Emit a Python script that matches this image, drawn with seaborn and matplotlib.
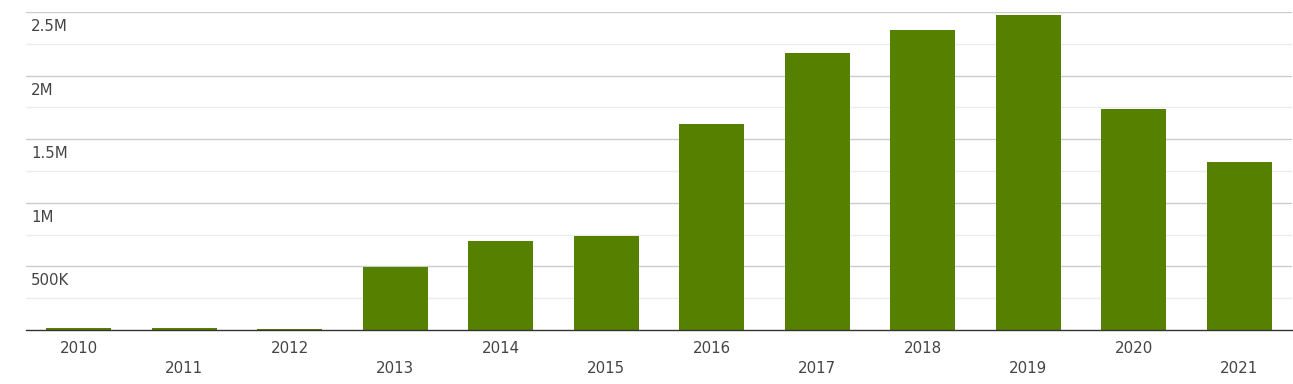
import matplotlib
matplotlib.use("Agg")
import matplotlib.pyplot as plt
import matplotlib.transforms as mtransforms
import seaborn as sns
import pandas as pd

years = ["2010", "2011", "2012", "2013", "2014", "2015", "2016", "2017", "2018", "2019", "2020", "2021"]
values = [13000, 16000, 5000, 495000, 700000, 739000, 1620000, 2178000, 2358000, 2476000, 1737000, 1321000]
ytick_values = [500000, 1000000, 1500000, 2000000, 2500000]
ytick_labels = ["500K", "1M", "1.5M", "2M", "2.5M"]

sns.set_theme(style="white")
plt.rcParams['font.family'] = ['DejaVu Sans']

fig = plt.figure(figsize=(12.93, 3.84), dpi=100)
ax = fig.add_axes([26/1293, 1 - 330/384, 1266/1293, 318/384])

df = pd.DataFrame({"year": years, "value": values})
sns.barplot(data=df, x="year", y="value", color="#558000", saturation=1, width=0.62,
            linewidth=0, ax=ax)

ax.set_xlim(-0.5, len(years) - 0.5)
ax.set_ylim(0, 2500000)

# gridlines
for v in range(250000, 2500001, 250000):
    major = (v % 500000 == 0)
    ax.axhline(v, color="#cccccc" if major else "#ececec", lw=1, zorder=0)

for s in ["top", "right", "left"]:
    ax.spines[s].set_visible(False)
ax.spines["bottom"].set_color("#333333")
ax.spines["bottom"].set_linewidth(1)

ax.set_yticks([])
ax.set_xlabel("")
ax.set_ylabel("")

FS = 10.8
trans = mtransforms.blended_transform_factory(ax.transAxes, ax.transData)
off = mtransforms.ScaledTranslation(5/100, -7/100, fig.dpi_scale_trans)
for v, lab in zip(ytick_values, ytick_labels):
    ax.text(0, v, lab, transform=trans + off, ha="left", va="top",
            fontsize=FS, color="#444444")

ax.set_xticks(range(len(years)))
ax.set_xticklabels([y if i % 2 == 0 else "\n" + y for i, y in enumerate(years)],
                   fontsize=FS, color="#444444", linespacing=1.38)
ax.tick_params(axis="x", length=0, pad=8)

fig.savefig("out.png", dpi=100)
